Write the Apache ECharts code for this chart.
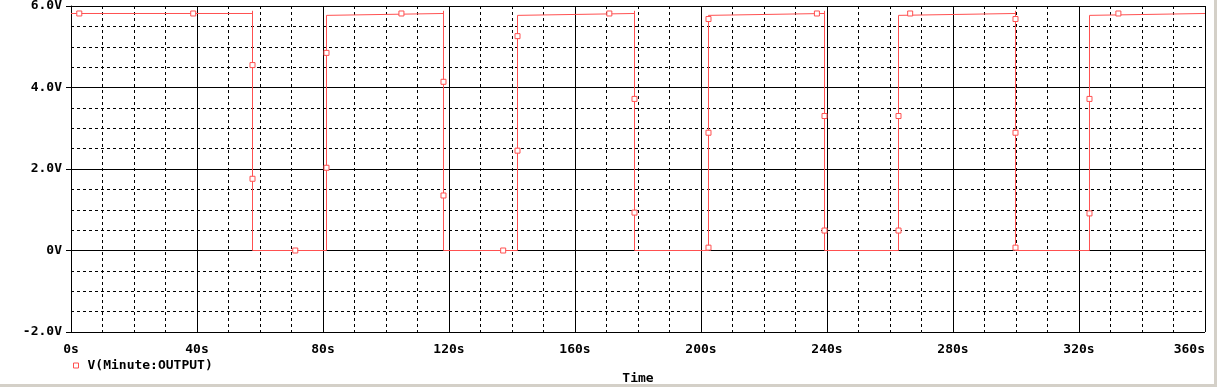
<!DOCTYPE html>
<html>
<head>
<meta charset="utf-8">
<script src="https://cdn.jsdelivr.net/npm/echarts@6/dist/echarts.min.js"></script>
<style>
  html, body { margin: 0; padding: 0; background: #d4d0c8; }
  #chart { width: 1214px; height: 384px; background: #ffffff; }
</style>
</head>
<body>
<div id="chart"></div>
<script>
// Waveform V(Minute:OUTPUT): time (s) and voltage (V)
var waveTime = [0, 57.62, 57.62, 57.62, 81.11, 81.11, 81.55, 118.25, 118.25, 118.25,
  141.75, 141.75, 142.2, 178.89, 178.89, 178.89, 202.38, 202.38, 202.82, 239.21, 239.21, 239.21,
  262.70, 262.70, 263.15, 299.84, 299.84, 299.84, 323.33, 323.33, 323.78, 360];
var waveVolt = [5.816, 5.816, 5.88, 0, 0, 5.77, 5.816, 5.816, 5.88, 0,
  0, 5.77, 5.816, 5.816, 5.88, 0, 0, 5.77, 5.816, 5.816, 5.88, 0,
  0, 5.77, 5.816, 5.816, 5.88, 0, 0, 5.77, 5.816, 5.816];
// Trace markers
var markerTime = [2.63, 38.8, 57.62, 57.62, 71.2, 81.11, 81.11, 104.9, 118.25, 118.25,
  137.2, 141.75, 141.75, 170.9, 178.89, 178.89, 202.38, 202.38, 202.38, 236.8, 239.21, 239.21,
  262.70, 262.70, 266.4, 299.84, 299.84, 299.84, 323.33, 323.33, 332.5];
var markerVolt = [5.816, 5.816, 4.55, 1.76, 0, 4.85, 2.03, 5.816, 4.14, 1.35,
  0, 5.26, 2.45, 5.816, 3.72, 0.93, 5.68, 2.89, 0.07, 5.816, 3.30, 0.49,
  3.30, 0.49, 5.816, 5.68, 2.89, 0.07, 3.72, 0.91, 5.816];
// Axes
var timeMin = 0, timeMax = 360, timeMajor = 40, timeMinor = 10;
var voltMin = -2, voltMax = 6, voltMajor = 2, voltMinor = 0.5;
var traceName = 'V(Minute:OUTPUT)';
var axisTitle = 'Time';

var waveData = waveTime.map(function (t, i) { return [t, waveVolt[i]]; });
var markerData = markerTime.map(function (t, i) { return [t, markerVolt[i]]; });

var red = '#ff5050';
var font = { fontFamily: 'DejaVu Sans Mono', fontWeight: 'bold', fontSize: 13, color: '#000' };

var chart = echarts.init(document.getElementById('chart'), null, { renderer: 'canvas' });
chart.setOption({
  animation: false,
  grid: { left: 71, top: 6, right: 9, bottom: 52, containLabel: false, outerBoundsMode: 'none' },
  legend: {
    left: 68, top: 354,
    icon: 'rect', itemWidth: 5, itemHeight: 5, itemGap: 10,
    textStyle: Object.assign({}, font, { padding: [0, 0, 0, 4] }),
    data: [{ name: traceName, itemStyle: { color: '#fff', borderColor: red, borderWidth: 1 } }]
  },
  xAxis: [
    {
      type: 'value', min: timeMin, max: timeMax, interval: timeMinor,
      axisLine: { show: false }, axisTick: { show: false }, axisLabel: { show: false },
      splitLine: { show: true, lineStyle: { color: '#000', width: 1, type: [3, 3] } }
    },
    {
      type: 'value', min: timeMin, max: timeMax, interval: timeMajor, position: 'bottom',
      name: axisTitle, nameLocation: 'middle', nameGap: 40,
      nameTextStyle: font,
      axisLine: { show: true, lineStyle: { color: '#000', width: 1 } },
      axisTick: { show: true, length: 6, lineStyle: { color: '#000' } },
      axisLabel: Object.assign({}, font, {
        margin: 11,
        alignMaxLabel: 'right',
        formatter: function (v) { return v + 's'; }
      }),
      splitLine: { show: true, lineStyle: { color: '#000', width: 1, type: 'solid' } }
    }
  ],
  yAxis: [
    {
      type: 'value', min: voltMin, max: voltMax, interval: voltMinor,
      axisLine: { show: false }, axisTick: { show: false }, axisLabel: { show: false },
      splitLine: { show: true, lineStyle: { color: '#000', width: 1, type: [3, 3] } }
    },
    {
      type: 'value', min: voltMin, max: voltMax, interval: voltMajor, position: 'left',
      axisLine: { show: true, lineStyle: { color: '#000', width: 1 } },
      axisTick: { show: true, length: 5, lineStyle: { color: '#000' } },
      axisLabel: Object.assign({}, font, {
        margin: 9,
        formatter: function (v) { return v === 0 ? '0V' : v.toFixed(1) + 'V'; }
      }),
      splitLine: { show: true, lineStyle: { color: '#000', width: 1, type: 'solid' } }
    }
  ],
  series: [
    {
      name: traceName, type: 'line', xAxisIndex: 1, yAxisIndex: 1,
      data: waveData, showSymbol: false, symbol: 'none',
      lineStyle: { color: red, width: 1 }, itemStyle: { color: red },
      z: 3
    },
    {
      name: traceName, type: 'scatter', xAxisIndex: 1, yAxisIndex: 1,
      data: markerData, symbol: 'rect', symbolSize: 5,
      itemStyle: { color: '#fff', borderColor: red, borderWidth: 1, opacity: 1 },
      z: 4
    }
  ]
});
</script>
</body>
</html>
